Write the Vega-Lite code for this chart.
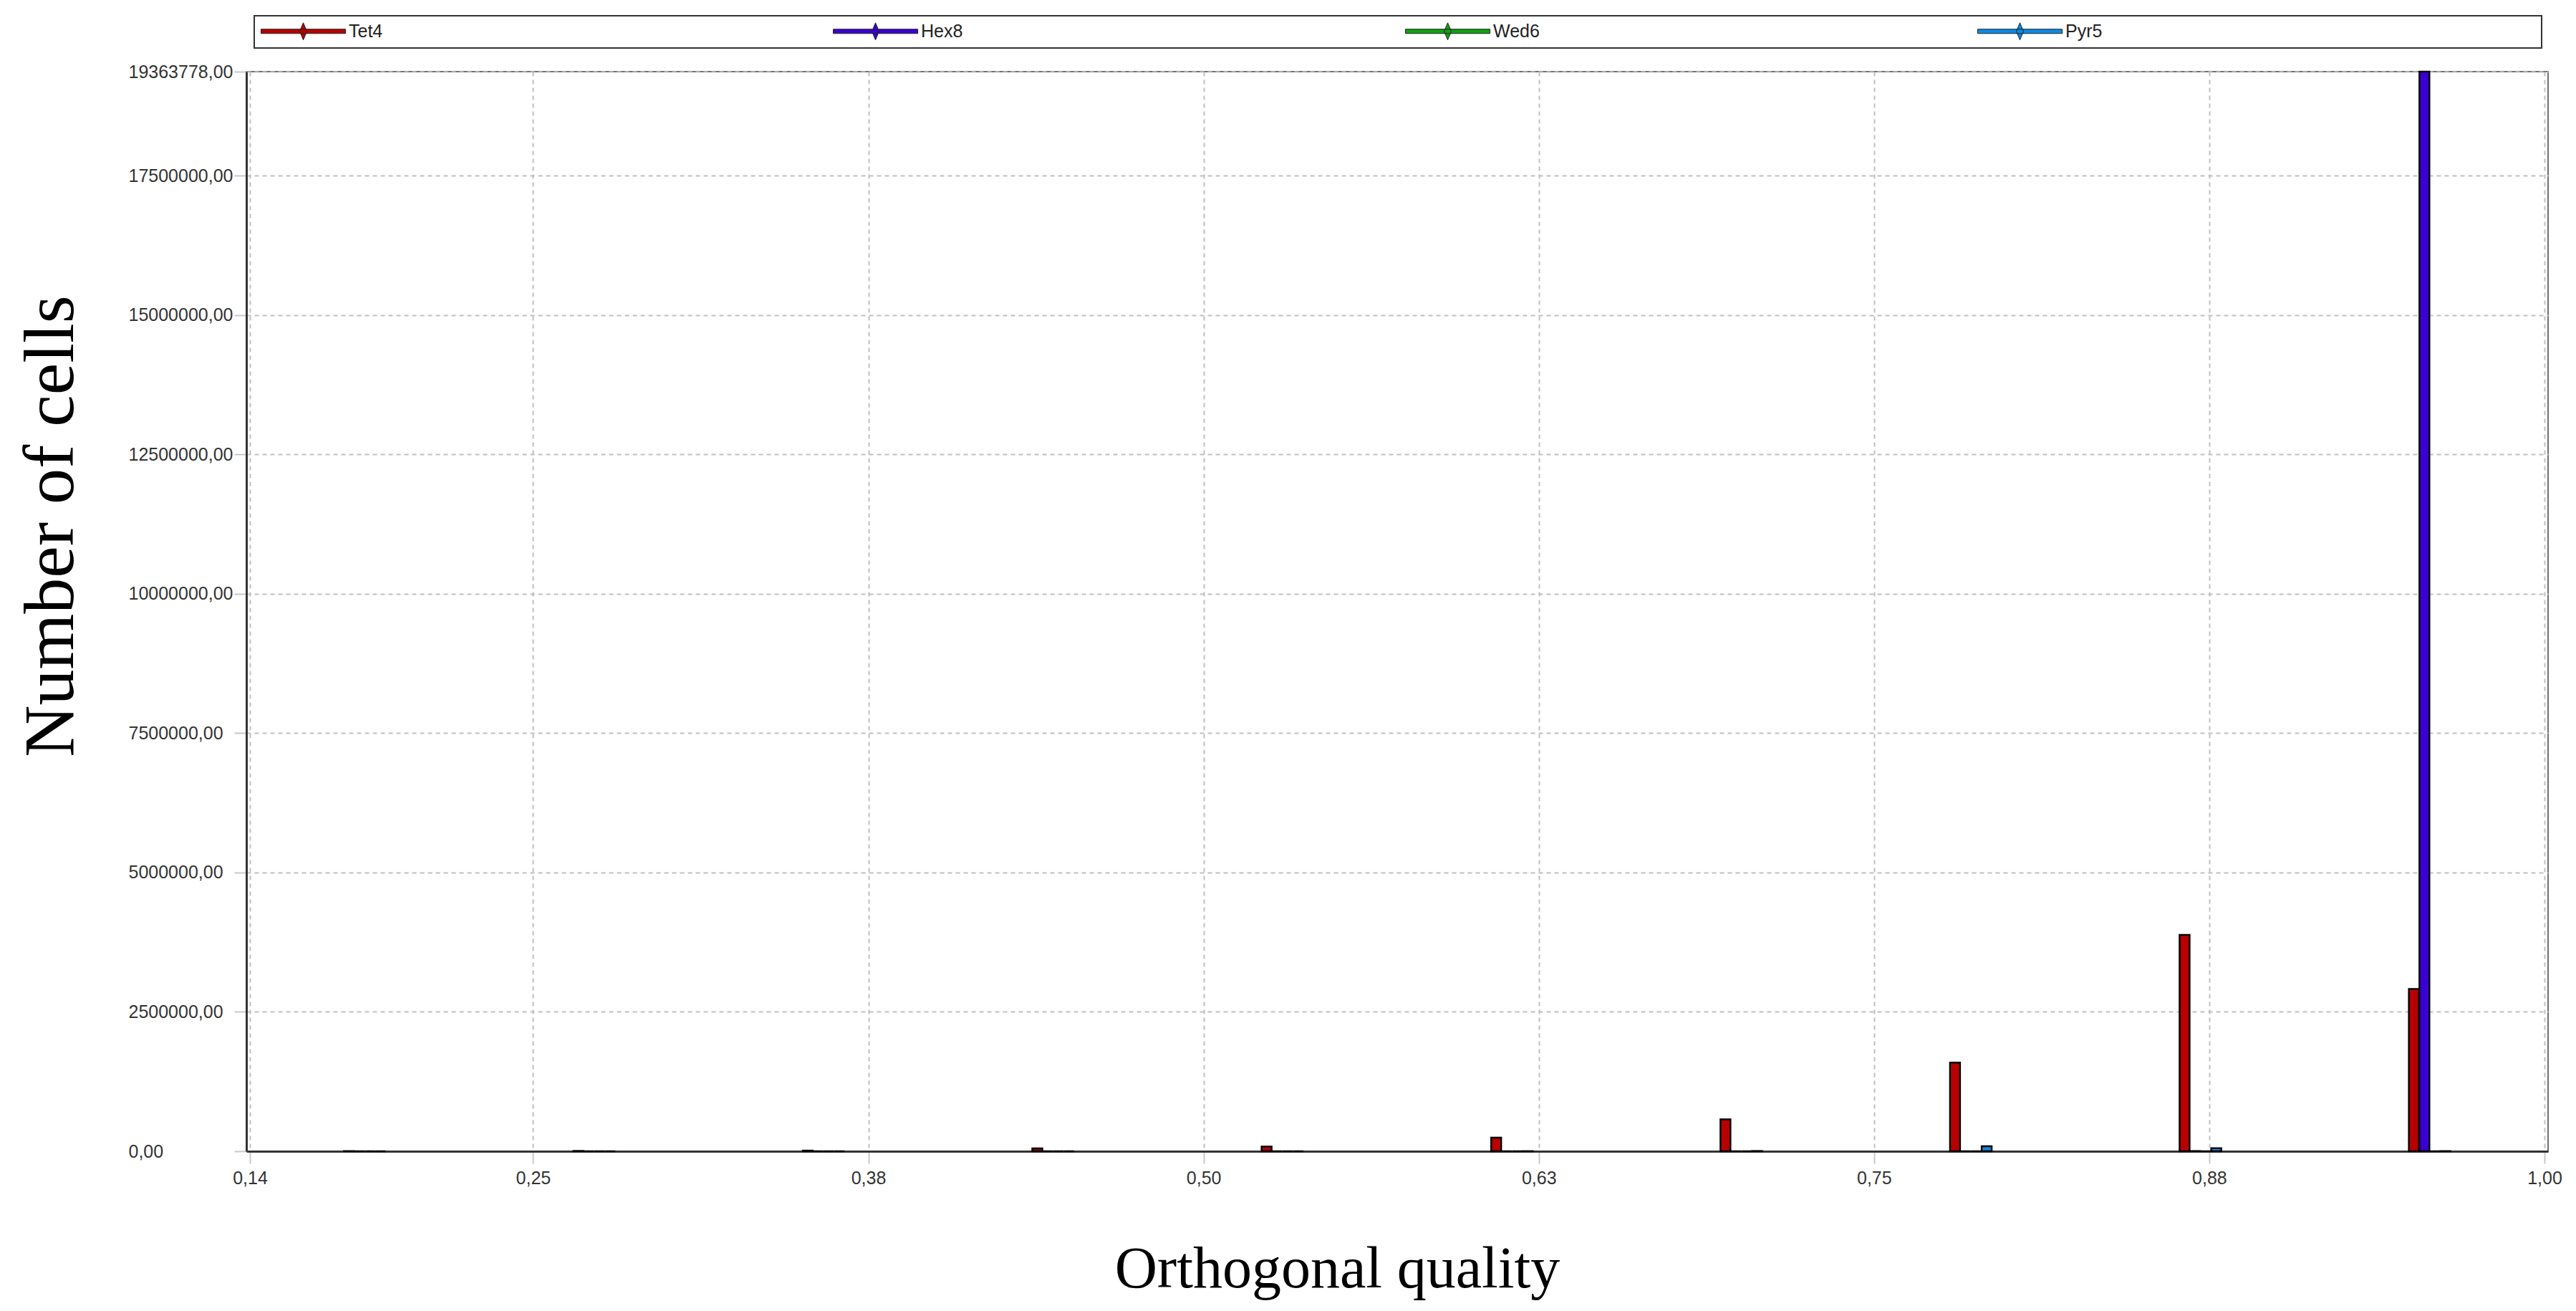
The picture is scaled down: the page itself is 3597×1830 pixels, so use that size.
{
  "$schema": "https://vega.github.io/schema/vega-lite/v6.json",
  "width": 3214,
  "height": 1507,
  "autosize": {"type": "none"},
  "padding": {"left": 344, "top": 100, "right": 39, "bottom": 223},
  "background": "#ffffff",
  "config": {
    "view": {"stroke": "#707070", "strokeWidth": 2},
    "legend": {"strokeWidth": 2}
  },
  "data": {
    "values": [
      {"q": 0.1872, "type": "Tet4", "count": 3000},
      {"q": 0.2728, "type": "Tet4", "count": 6000},
      {"q": 0.3583, "type": "Tet4", "count": 12000},
      {"q": 0.4439, "type": "Tet4", "count": 52000},
      {"q": 0.5294, "type": "Tet4", "count": 85000},
      {"q": 0.6150, "type": "Tet4", "count": 245000},
      {"q": 0.7005, "type": "Tet4", "count": 572000},
      {"q": 0.7861, "type": "Tet4", "count": 1590000},
      {"q": 0.8717, "type": "Tet4", "count": 3880000},
      {"q": 0.9572, "type": "Tet4", "count": 2910000},
      {"q": 0.1872, "type": "Hex8", "count": 0},
      {"q": 0.2728, "type": "Hex8", "count": 0},
      {"q": 0.3583, "type": "Hex8", "count": 0},
      {"q": 0.4439, "type": "Hex8", "count": 0},
      {"q": 0.5294, "type": "Hex8", "count": 0},
      {"q": 0.6150, "type": "Hex8", "count": 0},
      {"q": 0.7005, "type": "Hex8", "count": 0},
      {"q": 0.7861, "type": "Hex8", "count": 0},
      {"q": 0.8717, "type": "Hex8", "count": 4000},
      {"q": 0.9572, "type": "Hex8", "count": 19363778},
      {"q": 0.1872, "type": "Wed6", "count": 0},
      {"q": 0.2728, "type": "Wed6", "count": 0},
      {"q": 0.3583, "type": "Wed6", "count": 0},
      {"q": 0.4439, "type": "Wed6", "count": 0},
      {"q": 0.5294, "type": "Wed6", "count": 0},
      {"q": 0.6150, "type": "Wed6", "count": 0},
      {"q": 0.7005, "type": "Wed6", "count": 0},
      {"q": 0.7861, "type": "Wed6", "count": 0},
      {"q": 0.8717, "type": "Wed6", "count": 0},
      {"q": 0.9572, "type": "Wed6", "count": 0},
      {"q": 0.1872, "type": "Pyr5", "count": 0},
      {"q": 0.2728, "type": "Pyr5", "count": 0},
      {"q": 0.3583, "type": "Pyr5", "count": 0},
      {"q": 0.4439, "type": "Pyr5", "count": 0},
      {"q": 0.5294, "type": "Pyr5", "count": 0},
      {"q": 0.6150, "type": "Pyr5", "count": 2000},
      {"q": 0.7005, "type": "Pyr5", "count": 5000},
      {"q": 0.7861, "type": "Pyr5", "count": 90000},
      {"q": 0.8717, "type": "Pyr5", "count": 55000},
      {"q": 0.9572, "type": "Pyr5", "count": 3000}
    ]
  },
  "encoding": {
    "x": {
      "field": "q",
      "type": "quantitative",
      "scale": {"domain": [0.1444, 1.0], "nice": false, "zero": false},
      "axis": {
        "values": [0.1444, 0.25, 0.375, 0.5, 0.625, 0.75, 0.875, 1.0],
        "labelExpr": "replace(format(datum.value, '.2f'), '.', ',')",
        "labelFont": "Liberation Sans",
        "labelFontSize": 25,
        "labelColor": "#333333",
        "labelFlush": false,
        "labelOverlap": false,
        "labelPadding": 8,
        "tickSize": 17,
        "tickColor": "#c8c8c8",
        "tickWidth": 2,
        "domainColor": "#333333",
        "domainWidth": 3,
        "grid": true,
        "gridColor": "#c0c0c0",
        "gridDash": [6, 5],
        "gridWidth": 2,
        "title": "Orthogonal quality",
        "titleFont": "Liberation Serif",
        "titleFontSize": 82,
        "titleFontWeight": "normal",
        "titleColor": "#000000",
        "titleX": 1523,
        "titleY": 189,
        "titleAlign": "center",
        "titleBaseline": "alphabetic"
      }
    },
    "y": {
      "field": "count",
      "type": "quantitative",
      "scale": {"domain": [0, 19363778], "nice": false, "zero": true},
      "axis": {
        "values": [0, 2500000, 5000000, 7500000, 10000000, 12500000, 15000000, 17500000, 19363778],
        "labelExpr": "replace(format(datum.value, '.2f'), '.', ',')",
        "labelFont": "Liberation Sans",
        "labelFontSize": 25,
        "labelColor": "#333333",
        "labelAlign": "left",
        "labelBaseline": "middle",
        "labelPadding": 148,
        "labelFlush": false,
        "labelOverlap": false,
        "tickSize": 17,
        "tickColor": "#c8c8c8",
        "tickWidth": 2,
        "domainColor": "#333333",
        "domainWidth": 3,
        "grid": true,
        "gridColor": "#c0c0c0",
        "gridDash": [6, 5],
        "gridWidth": 2,
        "title": "Number of cells",
        "titleFont": "Liberation Serif",
        "titleFontSize": 100,
        "titleFontWeight": "normal",
        "titleColor": "#000000",
        "titleAngle": -90,
        "titleX": -243,
        "titleY": 634,
        "titleAlign": "center",
        "titleBaseline": "alphabetic"
      }
    },
    "color": {
      "field": "type",
      "type": "nominal",
      "scale": {
        "domain": ["Tet4", "Hex8", "Wed6", "Pyr5"],
        "range": ["#b80000", "#3a00d2", "#10a010", "#0a8ae4"]
      },
      "legend": {
        "orient": "none",
        "legendX": 11,
        "legendY": -78,
        "direction": "horizontal",
        "columns": 4,
        "gridAlign": "all",
        "columnPadding": 609,
        "padding": 9,
        "strokeColor": "#333333",
        "fillColor": "#ffffff",
        "title": " ",
        "titleOrient": "right",
        "titlePadding": 605,
        "symbolType": "M-4.917,-0.25H4.917V0.25H-4.917Z M0,-1L0.42,0L0,1L-0.42,0Z",
        "symbolSize": 576,
        "symbolOffset": 47,
        "symbolStrokeColor": "#222222",
        "symbolStrokeWidth": 1,
        "symbolOpacity": 1,
        "labelFont": "Liberation Sans",
        "labelFontSize": 25,
        "labelColor": "#222222",
        "labelOffset": 51,
        "labelLimit": 300
      }
    }
  },
  "layer": [
    {
      "transform": [{"filter": {"field": "type", "equal": "Tet4"}}],
      "mark": {"type": "bar", "width": 14, "xOffset": -22.1, "stroke": "#000000", "strokeWidth": 2.4}
    },
    {
      "transform": [{"filter": {"field": "type", "equal": "Hex8"}}],
      "mark": {"type": "bar", "width": 14, "xOffset": -7.4, "stroke": "#000000", "strokeWidth": 2.4}
    },
    {
      "transform": [{"filter": {"field": "type", "equal": "Wed6"}}],
      "mark": {"type": "bar", "width": 14, "xOffset": 7.4, "stroke": "#000000", "strokeWidth": 2.4}
    },
    {
      "transform": [{"filter": {"field": "type", "equal": "Pyr5"}}],
      "mark": {"type": "bar", "width": 14, "xOffset": 22.1, "stroke": "#000000", "strokeWidth": 2.4}
    }
  ]
}
